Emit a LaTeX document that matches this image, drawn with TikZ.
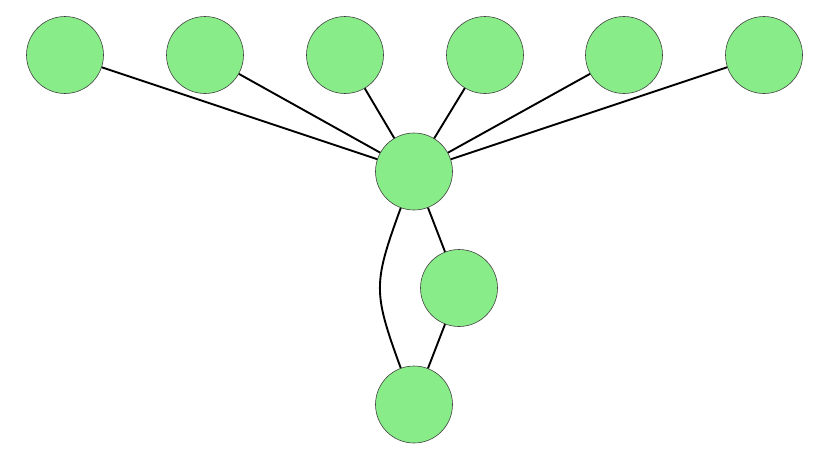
\documentclass[tikz,border=0pt]{standalone}
\begin{document}
\begin{tikzpicture}[x=1pt,y=-1pt,
  vtx/.style={circle,draw=black!75,line width=0.6pt,fill=nodegreen,minimum size=77pt,inner sep=0pt},
  edge/.style={draw=black,line width=1.9pt}]
\definecolor{nodegreen}{RGB}{136,236,136}
\useasboundingbox (0,0) rectangle (829,459);
\node[vtx] (t1) at (65,55) {};
\node[vtx] (t2) at (205,55) {};
\node[vtx] (t3) at (345,55) {};
\node[vtx] (t4) at (485,55) {};
\node[vtx] (t5) at (624,55) {};
\node[vtx] (t6) at (764,55) {};
\node[vtx] (c) at (414,171.5) {};
\node[vtx] (r) at (459,288) {};
\node[vtx] (b) at (414,404.5) {};
\path[edge] (t1) -- (c);
\path[edge] (t2) -- (c);
\path[edge] (t3) -- (c);
\path[edge] (t4) -- (c);
\path[edge] (t5) -- (c);
\path[edge] (t6) -- (c);
\path[edge] (c) -- (r);
\path[edge] (r) -- (b);
\path[edge] (c) to[out=-110,in=110,looseness=1.3] (b);
\end{tikzpicture}
\end{document}
